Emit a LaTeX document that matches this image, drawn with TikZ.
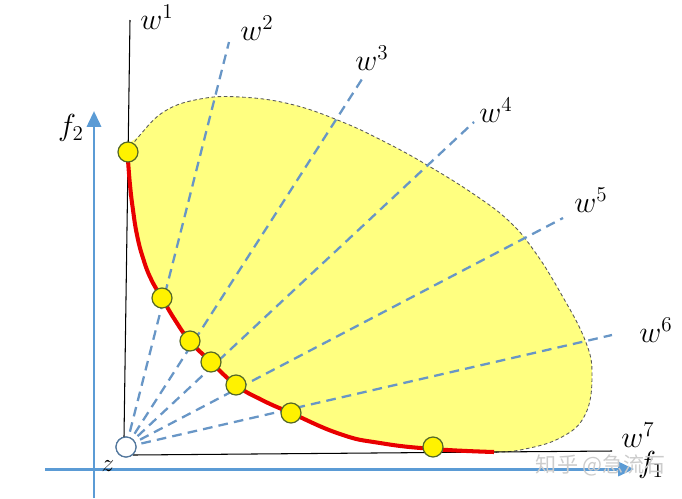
\documentclass[tikz,border=0pt]{standalone}
\usepackage{fontspec}
\newfontfamily\cjk{Noto Sans CJK SC}
\usepackage{tikz}
\usetikzlibrary{arrows.meta}
\usepackage[dvipsnames]{xcolor}
\definecolor{axisblue}{RGB}{91,155,213}
\definecolor{rayblue}{RGB}{104,150,198}
\definecolor{blobyellow}{RGB}{255,255,128}
\definecolor{ptedge}{RGB}{84,104,40}
\definecolor{frontred}{RGB}{232,0,0}

\tikzset{
  axis/.style={axisblue,line width=1.7pt,-{Triangle[length=9pt,width=8pt]}},
  ray/.style={rayblue,line width=1.3pt,dash pattern=on 5.5pt off 3.5pt},
  refline/.style={black,line width=0.6pt},
  pt/.style={circle,draw=ptedge,fill=yellow,line width=0.7pt,minimum size=0.4cm,inner sep=0pt},
  lab/.style={inner sep=0pt,font=\LARGE}
}

\begin{document}
\begin{tikzpicture}[x=0.02cm,y=-0.02cm]
\useasboundingbox (0,0) rectangle (682,498);
% feasible region
\fill[blobyellow] plot[smooth cycle,tension=0.7] coordinates {
  (128,152) (140,135) (165,111) (200,99) (240,97) (290,104) (340,121)
  (385,142) (427,165) (475,195) (510,222) (535,252) (560,292) (585,340)
  (592,375) (585,415) (560,438) (520,450) (493,452) (433,449) (380,443)
  (340,434) (291,413) (236,385) (190,341) (162,298) (142,258) (133,210)};
\draw[gray!70!black,line width=0.5pt,dash pattern=on 2pt off 1.5pt]
  plot[smooth,tension=0.7] coordinates {
  (128,152) (140,135) (165,111) (200,99) (240,97) (290,104) (340,121)
  (385,142) (427,165) (475,195) (510,222) (535,252) (560,292) (585,340)
  (592,375) (585,415) (560,438) (520,450) (493,452)};

% axes
\coordinate (xs) at (45,469);
\coordinate (xe) at (634,469);
\coordinate (ys) at (94,498);
\coordinate (ye) at (94,111);
\draw[axis] (xs) -- (xe);
\draw[axis] (ys) -- (ye);
\node[lab] (f2) at (71,128) {$f_2$};
\node[lab] (f1) at (651,465) {$f_1$};

% reference point and weight vectors
\node[circle,draw=rayblue!80!black,fill=white,line width=0.7pt,minimum size=0.4cm,inner sep=0pt] (z) at (126,447) {};
\node[inner sep=0pt,font=\Large] (zl) at (108,466) {$z$};
\coordinate (e1) at (130,20);
\coordinate (e2) at (229,42);
\coordinate (e3) at (364,76);
\coordinate (e4) at (474,122);
\coordinate (e5) at (563,218);
\coordinate (e6) at (612,335);
\coordinate (e7) at (612,451);
\draw[refline] (124,437) -- (e1);
\draw[refline] (133,455) -- (e7);
\foreach \i in {2,...,6}
  \draw[ray] (z.center) -- (e\i);
\node[lab] (w1) at (157,17) {$w^1$};
\node[lab] (w2) at (257,28) {$w^2$};
\node[lab] (w3) at (372,58) {$w^3$};
\node[lab] (w4) at (496,110) {$w^4$};
\node[lab] (w5) at (591,200) {$w^5$};
\node[lab] (w6) at (656,330) {$w^6$};
\node[lab] (w7) at (638,435) {$w^7$};

% front
\draw[frontred,line width=2.3pt] plot[smooth,tension=0.8] coordinates {
  (128,160) (130,185) (133,210) (137,235) (143,258) (151,279) (162,298)
  (175,320) (190,341) (211,362) (236,385) (262,400) (291,413)
  (340,434) (380,443) (433,449) (494,452)};
\node[pt] (p1) at (128,152) {};
\node[pt] (p2) at (162,298) {};
\node[pt] (p3) at (190,341) {};
\node[pt] (p4) at (211,362) {};
\node[pt] (p5) at (236,385) {};
\node[pt] (p6) at (291,413) {};
\node[pt] (p7) at (433,447) {};
\node[pt,fill=white,draw=rayblue!80!black] (z) at (126,447) {};

\node[text=gray!40,font=\cjk\fontsize{12}{14}\selectfont,inner sep=0pt] (wm) at (601,465) {知乎 @急流石};
\end{tikzpicture}
\end{document}
